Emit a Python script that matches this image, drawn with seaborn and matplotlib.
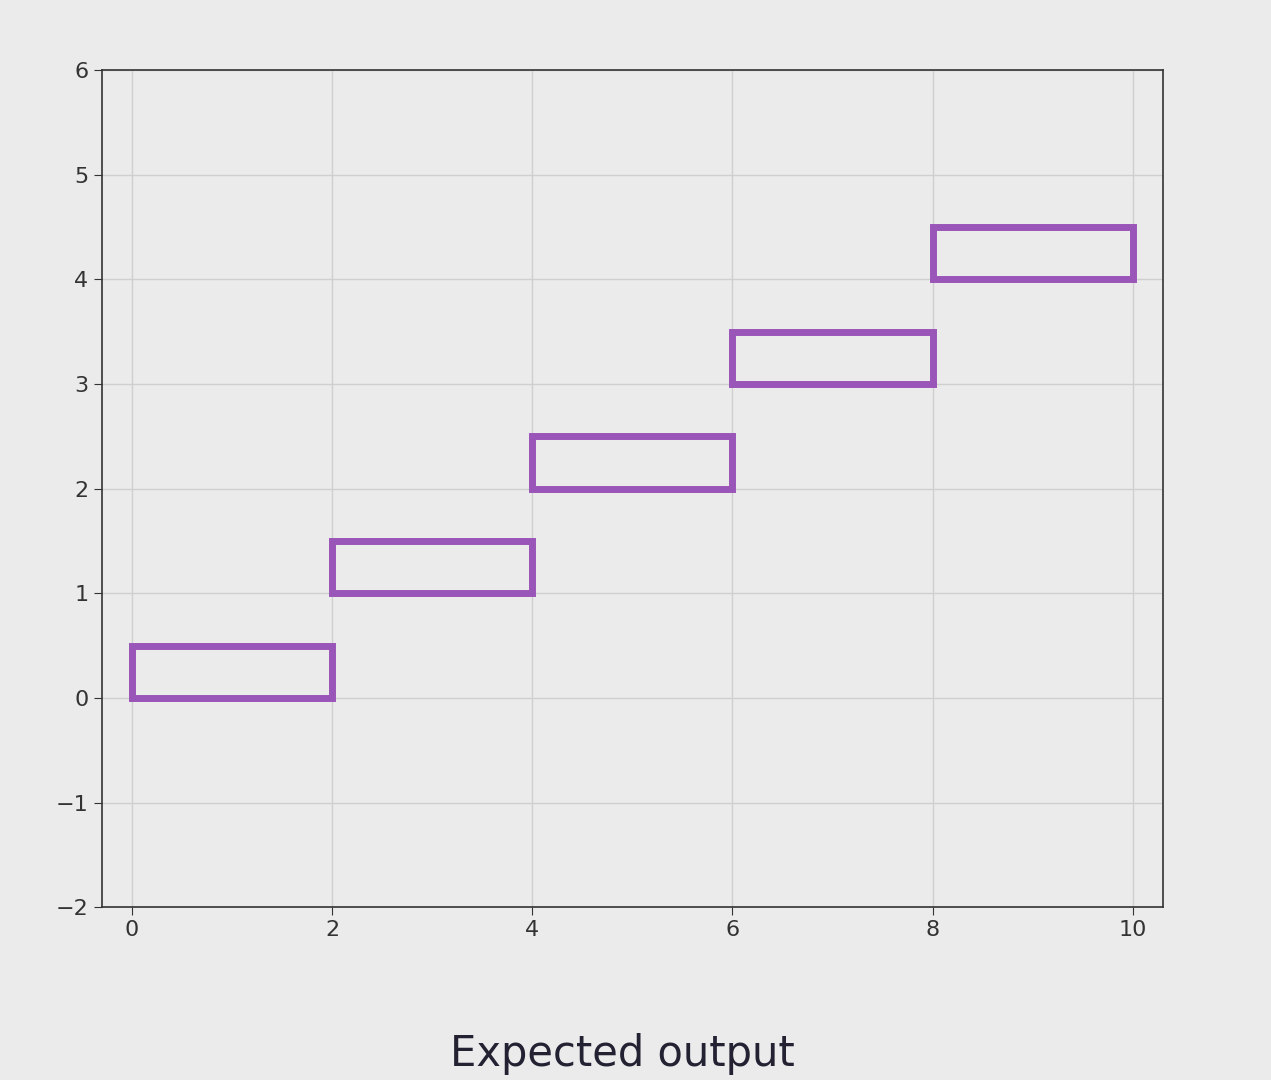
import matplotlib
matplotlib.use("Agg")
import matplotlib.pyplot as plt
import seaborn as sns
import numpy as np

# Data
box_x = [0, 2, 4, 6, 8]
box_y = [0, 1, 2, 3, 4]
box_w = [2, 2, 2, 2, 2]
box_h = [0.5, 0.5, 0.5, 0.5, 0.5]
x_ticks = [0, 2, 4, 6, 8, 10]
y_ticks = [-2, -1, 0, 1, 2, 3, 4, 5, 6]
caption = "Expected output"

sns.set_style("ticks")
plt.rcParams['font.family'] = ['DejaVu Sans']

bg = "#ebebeb"
fig = plt.figure(figsize=(12.71, 10.8), dpi=100, facecolor=bg)
ax = fig.add_axes([0.08, 0.16, 0.835, 0.775], facecolor=bg)

ax.bar(box_x, box_h, width=box_w, bottom=box_y, align="edge",
       fill=False, edgecolor="#9a55b8", linewidth=5, zorder=3)

ax.set_xlim(-0.3, 10.3)
ax.set_ylim(-2, 6)
ax.set_xticks(x_ticks)
ax.set_yticks(y_ticks)
ax.grid(True, color="#cfcfcf", linewidth=1)
ax.tick_params(labelsize=16, colors="#333333", length=6)
for s in ax.spines.values():
    s.set_color("#333333")
    s.set_linewidth(1.2)

fig.text(0.49, 0.024, caption, ha="center", va="center", fontsize=30,
         color="#222233")

fig.savefig("out.png", dpi=100, facecolor=bg)
